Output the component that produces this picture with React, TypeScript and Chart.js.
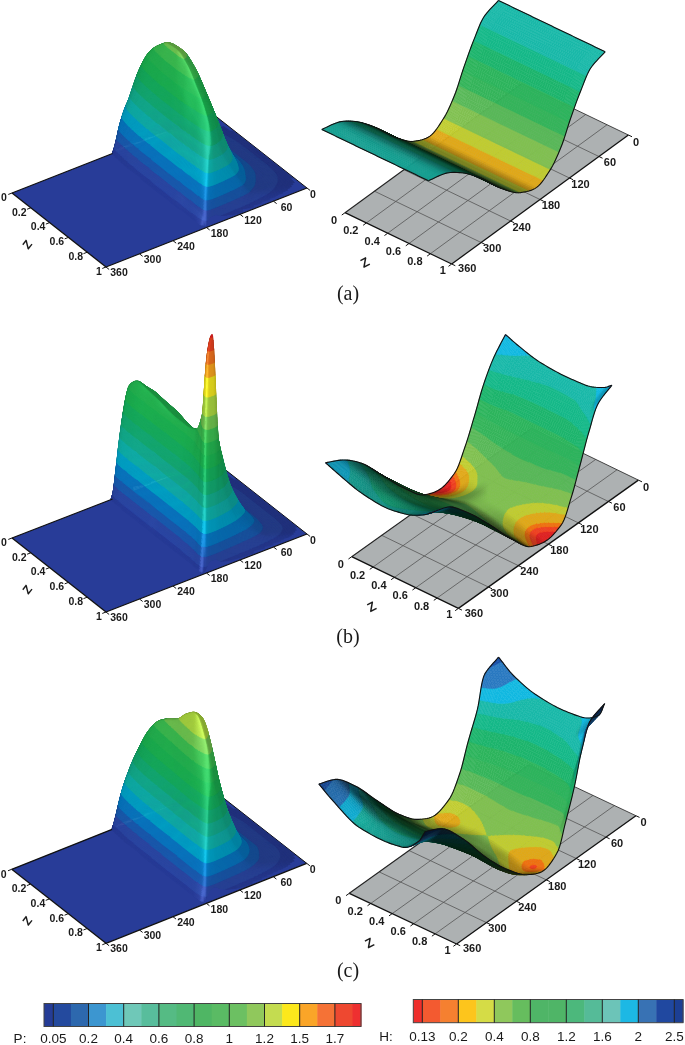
import { useEffect, useRef } from 'react';
import { Chart, ScatterController, registerables } from 'chart.js';

// pressure surfaces: rows follow thetaP, columns follow zP
const thetaP = [0, 60, 90, 120, 140, 155, 165, 172, 178, 183, 190, 360];
const zP = [0, 0.03, 0.1, 0.2, 0.3, 0.4, 0.5, 0.6, 0.7, 0.8, 0.9, 0.97, 1];

const pressureA = [
  [0, 0, 0, 0.01, 0.01, 0.01, 0.01, 0.01, 0.01, 0.01, 0.01, 0, 0],
  [0, 0.02, 0.05, 0.08, 0.11, 0.125, 0.13, 0.13, 0.13, 0.12, 0.085, 0.045, 0],
  [0, 0.05, 0.12, 0.18, 0.23, 0.26, 0.28, 0.28, 0.27, 0.24, 0.18, 0.1, 0],
  [0, 0.12, 0.27, 0.41, 0.5, 0.56, 0.59, 0.6, 0.58, 0.52, 0.42, 0.28, 0.01],
  [0, 0.2, 0.4, 0.62, 0.77, 0.86, 0.91, 0.92, 0.88, 0.79, 0.66, 0.44, 0.03],
  [0, 0.27, 0.47, 0.73, 0.92, 1.03, 1.1, 1.11, 1.06, 0.95, 0.81, 0.58, 0.05],
  [0, 0.28, 0.48, 0.75, 0.94, 1.05, 1.12, 1.13, 1.08, 0.97, 0.83, 0.63, 0.07],
  [0, 0.23, 0.39, 0.61, 0.76, 0.85, 0.91, 0.92, 0.88, 0.78, 0.68, 0.52, 0.07],
  [0, 0.12, 0.21, 0.33, 0.42, 0.47, 0.5, 0.5, 0.48, 0.43, 0.37, 0.29, 0.05],
  [0, 0.03, 0.05, 0.08, 0.1, 0.11, 0.12, 0.12, 0.115, 0.1, 0.09, 0.07, 0.01],
  [0, 0, 0.005, 0.01, 0.01, 0.01, 0.01, 0.01, 0.01, 0.01, 0.01, 0.005, 0],
  [0, 0, 0, 0, 0, 0, 0, 0, 0, 0, 0, 0, 0],
];

const pressureB = [
  [0, 0, 0, 0.01, 0.01, 0.01, 0.01, 0.01, 0.01, 0.01, 0.01, 0, 0],
  [0, 0.02, 0.05, 0.08, 0.1, 0.115, 0.12, 0.12, 0.12, 0.12, 0.11, 0.07, 0],
  [0, 0.06, 0.13, 0.2, 0.24, 0.26, 0.27, 0.27, 0.27, 0.27, 0.26, 0.16, 0.01],
  [0, 0.16, 0.33, 0.45, 0.52, 0.55, 0.56, 0.56, 0.56, 0.56, 0.52, 0.3, 0.02],
  [0, 0.34, 0.6, 0.76, 0.82, 0.84, 0.84, 0.83, 0.82, 0.84, 0.85, 0.55, 0.03],
  [0, 0.5, 0.84, 0.95, 0.97, 0.96, 0.95, 0.93, 0.92, 0.95, 1.15, 1.05, 0.05],
  [0, 0.58, 0.93, 1.0, 0.99, 0.98, 0.96, 0.95, 0.95, 0.98, 1.25, 1.82, 0.08],
  [0, 0.48, 0.78, 0.83, 0.81, 0.79, 0.78, 0.77, 0.76, 0.8, 1.08, 1.7, 0.08],
  [0, 0.27, 0.43, 0.47, 0.45, 0.44, 0.43, 0.42, 0.42, 0.45, 0.62, 1.1, 0.06],
  [0, 0.07, 0.12, 0.12, 0.12, 0.12, 0.11, 0.11, 0.11, 0.12, 0.17, 0.3, 0.02],
  [0, 0, 0.005, 0.01, 0.01, 0.01, 0.01, 0.01, 0.01, 0.01, 0.01, 0.01, 0],
  [0, 0, 0, 0, 0, 0, 0, 0, 0, 0, 0, 0, 0],
];

const pressureC = [
  [0, 0, 0, 0.01, 0.01, 0.01, 0.01, 0.01, 0.01, 0.01, 0.01, 0, 0],
  [0, 0.02, 0.05, 0.08, 0.1, 0.12, 0.13, 0.13, 0.13, 0.13, 0.1, 0.055, 0],
  [0, 0.05, 0.12, 0.19, 0.24, 0.26, 0.27, 0.28, 0.28, 0.27, 0.22, 0.12, 0.01],
  [0, 0.12, 0.28, 0.42, 0.51, 0.56, 0.58, 0.6, 0.6, 0.6, 0.5, 0.3, 0.02],
  [0, 0.2, 0.42, 0.63, 0.78, 0.87, 0.91, 0.94, 0.97, 0.98, 0.82, 0.52, 0.04],
  [0, 0.27, 0.5, 0.73, 0.92, 1.04, 1.11, 1.17, 1.25, 1.3, 1.12, 0.78, 0.07],
  [0, 0.27, 0.5, 0.73, 0.92, 1.05, 1.12, 1.18, 1.28, 1.34, 1.2, 0.9, 0.1],
  [0, 0.22, 0.42, 0.6, 0.75, 0.85, 0.91, 0.96, 1.04, 1.1, 1.0, 0.76, 0.09],
  [0, 0.12, 0.22, 0.33, 0.42, 0.47, 0.5, 0.52, 0.57, 0.6, 0.55, 0.42, 0.06],
  [0, 0.03, 0.05, 0.08, 0.1, 0.11, 0.12, 0.13, 0.13, 0.14, 0.13, 0.1, 0.02],
  [0, 0, 0.005, 0.01, 0.01, 0.01, 0.01, 0.01, 0.01, 0.01, 0.01, 0.005, 0],
  [0, 0, 0, 0, 0, 0, 0, 0, 0, 0, 0, 0, 0],
];

// film thickness surfaces: rows follow thetaH, columns follow zH
const thetaH = [0, 30, 60, 90, 120, 150, 180, 210, 240, 270, 300, 330, 360];
const zH = [0, 0.1, 0.3, 0.5, 0.7, 0.9, 1];

const filmA = [
  [1.79, 1.79, 1.79, 1.79, 1.79, 1.79, 1.79],
  [1.7, 1.7, 1.7, 1.7, 1.7, 1.7, 1.7],
  [1.41, 1.41, 1.41, 1.41, 1.41, 1.41, 1.41],
  [1.05, 1.05, 1.05, 1.05, 1.05, 1.05, 1.05],
  [0.66, 0.66, 0.66, 0.66, 0.66, 0.66, 0.66],
  [0.39, 0.39, 0.39, 0.39, 0.39, 0.39, 0.39],
  [0.26, 0.26, 0.26, 0.26, 0.26, 0.26, 0.26],
  [0.38, 0.38, 0.38, 0.38, 0.38, 0.38, 0.38],
  [0.7, 0.7, 0.7, 0.7, 0.7, 0.7, 0.7],
  [1.15, 1.15, 1.15, 1.15, 1.15, 1.15, 1.15],
  [1.5, 1.5, 1.5, 1.5, 1.5, 1.5, 1.5],
  [1.71, 1.71, 1.71, 1.71, 1.71, 1.71, 1.71],
  [1.79, 1.79, 1.79, 1.79, 1.79, 1.79, 1.79],
];

const filmB = [
  [2.02, 1.9, 1.74, 1.7, 1.72, 1.88, 2.04],
  [1.76, 1.7, 1.6, 1.56, 1.57, 1.72, 1.9],
  [1.4, 1.38, 1.3, 1.3, 1.3, 1.38, 1.5],
  [0.95, 0.97, 1.0, 1.0, 1.0, 0.98, 1.02],
  [0.52, 0.58, 0.7, 0.75, 0.72, 0.6, 0.55],
  [0.18, 0.25, 0.45, 0.58, 0.46, 0.26, 0.18],
  [0.08, 0.14, 0.36, 0.52, 0.38, 0.14, 0.09],
  [0.18, 0.24, 0.42, 0.55, 0.45, 0.25, 0.18],
  [0.55, 0.58, 0.68, 0.74, 0.7, 0.6, 0.58],
  [1.05, 1.04, 1.0, 0.98, 1.0, 1.05, 1.12],
  [1.55, 1.45, 1.3, 1.25, 1.3, 1.45, 1.6],
  [1.85, 1.75, 1.55, 1.5, 1.55, 1.75, 1.95],
  [2.02, 1.9, 1.7, 1.63, 1.7, 1.9, 2.06],
];

const filmC = [
  [2.32, 2.05, 1.82, 1.76, 1.8, 2.05, 2.41],
  [2.2, 2.0, 1.68, 1.62, 1.66, 1.95, 2.3],
  [1.65, 1.55, 1.4, 1.35, 1.38, 1.5, 1.87],
  [1.2, 1.15, 1.05, 1.02, 1.02, 1.1, 1.3],
  [0.72, 0.68, 0.68, 0.7, 0.66, 0.6, 0.8],
  [0.4, 0.36, 0.42, 0.48, 0.4, 0.28, 0.34],
  [0.3, 0.26, 0.34, 0.4, 0.3, 0.16, 0.2],
  [0.44, 0.38, 0.44, 0.5, 0.42, 0.26, 0.34],
  [0.78, 0.7, 0.7, 0.74, 0.68, 0.58, 0.68],
  [1.3, 1.15, 1.05, 1.04, 1.04, 1.1, 1.17],
  [1.85, 1.62, 1.4, 1.36, 1.4, 1.6, 1.8],
  [2.22, 2.0, 1.66, 1.6, 1.65, 2.0, 2.25],
  [2.35, 2.1, 1.75, 1.7, 1.76, 2.1, 2.42],
];

// contour levels and their colours, one colour more than levels
const pLevels = [0.05, 0.125, 0.2, 0.3, 0.4, 0.5, 0.6, 0.7, 0.8, 0.9, 1, 1.1, 1.2, 1.35, 1.5, 1.6, 1.7, 1.8];
const pColors = ['#253c96', '#244a9e', '#2d68ae', '#3c96d0', '#4cc0d4', '#6fc8b8', '#58bd9c', '#55bb84', '#50b874', '#4fb664', '#5abb64', '#6cc062', '#90c85c', '#c4dc50', '#fce81c', '#faa528', '#f57236', '#ee4830', '#ee3030'];
const pSurface = ['#283c98', '#2c48a4', '#1a5cb0', '#0878c2', '#00a4c8', '#10b0a8', '#14ac8c', '#14aa70', '#16ac5c', '#1cb050', '#24b250', '#3cba50', '#70c250', '#a8d240', '#ece020', '#f0a020', '#e87020', '#e04020', '#e02020'];
const hLevels = [0.13, 0.165, 0.2, 0.3, 0.4, 0.6, 0.8, 1, 1.2, 1.4, 1.6, 1.8, 2, 2.25, 2.5];
const hColors = ['#ee2e2c', '#f35a30', '#f58030', '#fdc51c', '#d5dc46', '#8fc85c', '#66bd5e', '#4fb567', '#4fb567', '#4cb87c', '#55bb98', '#6cc4b8', '#1cb8e4', '#3872b4', '#2048a0', '#1c3f94'];
const hSurface = ['#e02020', '#f04020', '#f07010', '#e0a818', '#c0cc30', '#80c050', '#58b858', '#34b45a', '#2cb45c', '#1cb46c', '#14b888', '#18b8a8', '#10b8e0', '#2878c0', '#1850a8', '#103c90'];

const pTicks = ['0.05', '0.2', '0.4', '0.6', '0.8', '1', '1.2', '1.5', '1.7'];
const hTicks = ['0.13', '0.2', '0.4', '0.8', '1.2', '1.6', '2', '2.5'];
const thetaTicks = [360, 300, 240, 180, 120, 60, 0];
const zTicks = [0, 0.2, 0.4, 0.6, 0.8, 1];

const leftPanels = [
  { origin: [12, 193], tVec: [201, -79], zVec: [94, 74], grid: pressureA },
  { origin: [12, 538], tVec: [201, -78], zVec: [94, 74], grid: pressureB },
  { origin: [11.7, 869.3], tVec: [200.7, -80], zVec: [94.3, 74], grid: pressureC },
];
const rightPanels = [
  { origin: [345, 212.7], tVec: [176.7, -129], zVec: [106.7, 51.3], grid: filmA },
  { origin: [351.7, 556.7], tVec: [180, -128.3], zVec: [106.7, 51.7], grid: filmB },
  { origin: [349.3, 893.3], tVec: [179.3, -128.3], zVec: [107.3, 50.7], grid: filmC },
];

const hexRgb = (h: string) => [1, 3, 5].map((i) => parseInt(h.slice(i, i + 2), 16));

function cubic(xs: number[], ys: number[], qs: number[]) {
  const n = xs.length;
  const d = xs.slice(1).map((x, i) => (ys[i + 1] - ys[i]) / (x - xs[i]));
  const m = xs.map((_, i) => {
    if (i === 0) return d[0];
    if (i === n - 1) return d[n - 2];
    if (d[i - 1] * d[i] <= 0) return 0;
    const h0 = xs[i] - xs[i - 1];
    const h1 = xs[i + 1] - xs[i];
    return (3 * (h0 + h1)) / ((2 * h1 + h0) / d[i - 1] + (h1 + 2 * h0) / d[i]);
  });
  return qs.map((q) => {
    let k = 0;
    while (k < n - 2 && q > xs[k + 1]) k++;
    const h = xs[k + 1] - xs[k];
    const t = (q - xs[k]) / h;
    const t2 = t * t;
    const t3 = t2 * t;
    return (2 * t3 - 3 * t2 + 1) * ys[k] + (t3 - 2 * t2 + t) * h * m[k] + (-2 * t3 + 3 * t2) * ys[k + 1] + (t3 - t2) * h * m[k + 1];
  });
}

function subdivide(xs: number[], n: number) {
  const out: number[] = [];
  xs.slice(1).forEach((x, i) => {
    for (let k = 0; k < n; k++) out.push(xs[i] + ((x - xs[i]) * k) / n);
  });
  out.push(xs[xs.length - 1]);
  return out;
}

// keep the part of a cell polygon above or below one contour level
function clipLevel(poly: number[][], level: number, above: boolean) {
  const out: number[][] = [];
  poly.forEach((p, i) => {
    const q = poly[(i + 1) % poly.length];
    const pIn = above ? p[2] >= level : p[2] <= level;
    const qIn = above ? q[2] >= level : q[2] <= level;
    if (pIn) out.push(p);
    if (pIn !== qIn) {
      const s = (level - p[2]) / (q[2] - p[2]);
      out.push([p[0] + s * (q[0] - p[0]), p[1] + s * (q[1] - p[1]), level]);
    }
  });
  return out;
}

const bandOf = (v: number, levels: number[]) => {
  let b = 0;
  while (b < levels.length && v >= levels[b]) b++;
  return b;
};

function shadeCss(base: number[], f: number, spec: number) {
  const c = base.map((v) => Math.min(255, Math.round(v * f + 255 * spec)));
  return `rgb(${c[0]},${c[1]},${c[2]})`;
}

function drawSurface(chart: any, panel: any, o: any) {
  const { ctx, scales } = chart;
  const px = (v: number) => scales.x.getPixelForValue(v);
  const py = (v: number) => scales.y.getPixelForValue(v);
  const tf = subdivide(o.thetas, o.subT);
  const zf = subdivide(o.zs, o.subZ);
  const cols = o.zs.map((_: number, j: number) => cubic(o.thetas, panel.grid.map((r: number[]) => r[j]), tf));
  const vals = tf.map((_, k) => cubic(o.zs, cols.map((c: number[]) => c[k]), zf));

  const X = (t: number, z: number, v: number) => panel.origin[0] + (1 - t / 360) * panel.tVec[0] + z * panel.zVec[0] + v * o.up[0];
  const Y = (t: number, z: number, v: number) => panel.origin[1] + (1 - t / 360) * panel.tVec[1] + z * panel.zVec[1] + v * o.up[1];
  const lt = Math.hypot(panel.tVec[0], panel.tVec[1]) / 360;
  const lz = Math.hypot(panel.zVec[0], panel.zVec[1]);
  const rise = Math.abs(o.up[1]);
  const rgb = o.colors.map(hexRgb);

  for (let i = 0; i < tf.length - 1; i++) {
    for (let j = 0; j < zf.length - 1; j++) {
      const a = vals[i][j], b = vals[i + 1][j], c = vals[i + 1][j + 1], d = vals[i][j + 1];
      const mean = (a + b + c + d) / 4;
      if (mean < o.skipBelow) continue;

      const nt = -(((b + c - a - d) / 2) * rise) / ((tf[i + 1] - tf[i]) * lt);
      const nz = -(((c + d - a - b) / 2) * rise) / ((zf[j + 1] - zf[j]) * lz);
      const len = Math.hypot(nt, nz, 1);
      let f = 1;
      let spec = 0;
      if (o.kind === 'pressure') {
        const dot = (nt * 0.8 + nz * 0.55 + 0.25) / len;
        f = dot > 0.81 ? 0.97 + (dot - 0.81) * 0.6 : Math.max(0.8, 0.97 - (0.81 - dot) * 0.3);
        spec = Math.max(0, Math.min(0.16, (dot - 0.84) * 0.7));
      } else {
        const dot = (nt * 0.66 + nz * 0.3 + 0.73) / len;
        f = Math.min(1, 0.2 + (0.8 * Math.max(0, dot)) / 0.73);
      }

      const poly = [[tf[i], zf[j], a], [tf[i + 1], zf[j], b], [tf[i + 1], zf[j + 1], c], [tf[i], zf[j + 1], d]];
      const lo = bandOf(Math.min(a, b, c, d), o.levels);
      const hi = bandOf(Math.max(a, b, c, d), o.levels);
      for (let band = lo; band <= hi; band++) {
        let part = poly;
        if (band > 0) part = clipLevel(part, o.levels[band - 1], true);
        if (band < o.levels.length && part.length) part = clipLevel(part, o.levels[band], false);
        if (part.length < 3) continue;
        const css = shadeCss(rgb[band], f, spec);
        ctx.fillStyle = css;
        ctx.strokeStyle = css;
        ctx.lineWidth = 0.5;
        ctx.beginPath();
        part.forEach((p: number[], k: number) => {
          const x = px(X(p[0], p[1], p[2]));
          const y = py(Y(p[0], p[1], p[2]));
          if (k) ctx.lineTo(x, y);
          else ctx.moveTo(x, y);
        });
        ctx.closePath();
        ctx.fill();
        ctx.stroke();
      }
    }
  }

  // outline of the sheet
  if (o.outline) {
    ctx.strokeStyle = '#111';
    ctx.lineWidth = 1.1;
    const last = zf.length - 1;
    const paths = [
      tf.map((t, i) => [X(t, 0, vals[i][0]), Y(t, 0, vals[i][0])]),
      tf.map((t, i) => [X(t, 1, vals[i][last]), Y(t, 1, vals[i][last])]),
      zf.map((z, j) => [X(0, z, vals[0][j]), Y(0, z, vals[0][j])]),
      zf.map((z, j) => [X(360, z, vals[tf.length - 1][j]), Y(360, z, vals[tf.length - 1][j])]),
    ];
    paths.forEach((p) => {
      ctx.beginPath();
      p.forEach((q: number[], k: number) => (k ? ctx.lineTo(px(q[0]), py(q[1])) : ctx.moveTo(px(q[0]), py(q[1]))));
      ctx.stroke();
    });
  }
}

function floorPoint(panel: any, t: number, z: number) {
  return [
    panel.origin[0] + (1 - t / 360) * panel.tVec[0] + z * panel.zVec[0],
    panel.origin[1] + (1 - t / 360) * panel.tVec[1] + z * panel.zVec[1],
  ];
}

function line(chart: any, a: number[], b: number[], color: string, width: number) {
  const { ctx, scales } = chart;
  ctx.strokeStyle = color;
  ctx.lineWidth = width;
  ctx.beginPath();
  ctx.moveTo(scales.x.getPixelForValue(a[0]), scales.y.getPixelForValue(a[1]));
  ctx.lineTo(scales.x.getPixelForValue(b[0]), scales.y.getPixelForValue(b[1]));
  ctx.stroke();
}

function label(chart: any, text: string, x: number, y: number, font: string, angle = 0) {
  const { ctx, scales } = chart;
  ctx.save();
  ctx.font = font;
  ctx.fillStyle = '#1a1a1a';
  ctx.textAlign = 'center';
  ctx.textBaseline = 'middle';
  ctx.translate(scales.x.getPixelForValue(x), scales.y.getPixelForValue(y));
  ctx.rotate((angle * Math.PI) / 180);
  ctx.fillText(text, 0, 0);
  ctx.restore();
}

function fillFloor(chart: any, panel: any, color: string) {
  const { ctx, scales } = chart;
  ctx.fillStyle = color;
  ctx.beginPath();
  [floorPoint(panel, 360, 0), floorPoint(panel, 360, 1), floorPoint(panel, 0, 1), floorPoint(panel, 0, 0)].forEach((p, i) => {
    const x = scales.x.getPixelForValue(p[0]);
    const y = scales.y.getPixelForValue(p[1]);
    if (i) ctx.lineTo(x, y);
    else ctx.moveTo(x, y);
  });
  ctx.closePath();
  ctx.fill();
}

function drawAxes(chart: any, panel: any, o: any) {
  const len = Math.hypot(panel.tVec[0], panel.tVec[1]);
  const zLen = Math.hypot(panel.zVec[0], panel.zVec[1]);
  thetaTicks.forEach((t, i) => {
    const p = floorPoint(panel, t, 1);
    line(chart, p, [p[0] + (panel.zVec[0] / zLen) * 4, p[1] + (panel.zVec[1] / zLen) * 4], '#111', 1);
    const off = i === 0 ? o.thetaFirst : i === thetaTicks.length - 1 ? o.thetaLast : o.thetaOff;
    label(chart, String(t), p[0] + off[0], p[1] + off[1], o.font);
  });
  zTicks.forEach((z, i) => {
    const p = floorPoint(panel, 360, z);
    line(chart, p, [p[0] - (panel.tVec[0] / len) * 4, p[1] - (panel.tVec[1] / len) * 4], '#111', 1);
    const off = i === 0 ? o.zFirst : i === zTicks.length - 1 ? o.zLast : o.zOff;
    label(chart, String(z), p[0] + off[0], p[1] + off[1], o.font);
  });
  const mid = floorPoint(panel, 360, 0.5);
  label(chart, 'Z', mid[0] + o.nameOff[0], mid[1] + o.nameOff[1], o.nameFont, o.nameAngle);
}

function drawLeft(chart: any, panel: any) {
  const corner = (t: number, z: number) => floorPoint(panel, t, z);
  fillFloor(chart, panel, pSurface[0]);
  line(chart, corner(0, 1), corner(0, 0), '#111', 1);
  drawSurface(chart, panel, {
    kind: 'pressure', thetas: thetaP, zs: zP, up: [0, -128], levels: pLevels, colors: pSurface,
    subT: 12, subZ: 10, skipBelow: 0.02, outline: false,
  });
  line(chart, corner(180, 0), corner(360, 0), '#111', 1.3);
  line(chart, corner(360, 0), corner(360, 1), '#111', 1.3);
  line(chart, corner(360, 1), corner(0, 1), '#111', 1.3);
  drawAxes(chart, panel, {
    font: 'bold 10.5px "Liberation Sans"',
    thetaFirst: [13, 6], thetaLast: [6, 7], thetaOff: [13, 6.5],
    zFirst: [-8, 5.5], zLast: [-7, 5], zOff: [-11.5, 5],
    nameOff: [-31, 15], nameFont: 'bold 12px "Liberation Sans"', nameAngle: -52,
  });
}

function drawRight(chart: any, panel: any) {
  const c = (t: number, z: number) => floorPoint(panel, t, z);
  fillFloor(chart, panel, '#adb1b2');
  thetaTicks.slice(1, -1).forEach((t) => line(chart, c(t, 0), c(t, 1), '#555', 0.8));
  zTicks.slice(1, -1).forEach((z) => line(chart, c(0, z), c(360, z), '#555', 0.8));
  line(chart, c(360, 0), c(0, 0), '#222', 1.1);
  line(chart, c(0, 0), c(0, 1), '#333', 0.9);
  line(chart, c(360, 0), c(360, 1), '#111', 1.3);
  line(chart, c(360, 1), c(0, 1), '#111', 1.3);
  drawSurface(chart, panel, {
    kind: 'film', thetas: thetaH, zs: zH, up: [-12.97, -46.5], levels: hLevels, colors: hSurface,
    subT: 8, subZ: 10, skipBelow: -1, outline: true,
  });
  drawAxes(chart, panel, {
    font: 'bold 11px "Liberation Sans"',
    thetaFirst: [15.5, 5.3], thetaLast: [7.7, 7.7], thetaOff: [11, 6.8],
    zFirst: [-11, 8], zLast: [-9, 6.7], zOff: [-15.5, 8.5],
    nameOff: [-33, 25], nameFont: 'bold 13px "Liberation Sans"', nameAngle: -28,
  });
}

// one surface panel, drawn through the chart's own x and y scales
class SurfaceController extends ScatterController {
  static id = 'surface';
  static defaults = ScatterController.defaults;
  static overrides = ScatterController.overrides;
  draw() {
    const ds: any = this.getDataset();
    if (ds.side === 'left') drawLeft(this.chart, ds.panel);
    else drawRight(this.chart, ds.panel);
  }
}

Chart.register(...registerables, SurfaceController);

function drawBar(chart: any, o: any) {
  const { ctx, scales } = chart;
  const px = (v: number) => scales.x.getPixelForValue(v);
  const py = (v: number) => scales.y.getPixelForValue(v);
  const half = o.step / 2;
  o.colors.forEach((col: string, i: number) => {
    const x0 = i === 0 ? o.x0 : o.first + (i - 1) * half;
    const x1 = Math.min(o.x1, o.first + i * half);
    ctx.fillStyle = col;
    ctx.fillRect(px(x0), py(o.y0), px(x1) - px(x0) + 0.5, py(o.y1) - py(o.y0));
  });
  ctx.strokeStyle = '#444';
  ctx.lineWidth = 1;
  ctx.strokeRect(px(o.x0), py(o.y0), px(o.x1) - px(o.x0), py(o.y1) - py(o.y0));
  o.ticks.forEach((t: string, i: number) => {
    const x = o.first + i * o.step;
    line(chart, [x, o.y0], [x, o.y1], '#222', 1);
    label(chart, t, x, o.labelY, '13.5px "Liberation Sans"');
  });
  label(chart, o.name, o.nameX, o.labelY, '13.5px "Liberation Sans"');
}

const captions = [
  { text: '(a)', y: 295 },
  { text: '(b)', y: 638 },
  { text: '(c)', y: 972 },
];

const extrasPlugin = {
  id: 'extras',
  afterDatasetsDraw(chart: any) {
    captions.forEach((c) => label(chart, c.text, 348, c.y, '20px "Liberation Serif"'));
    drawBar(chart, { x0: 44, x1: 361, y0: 1003.5, y1: 1026.5, first: 53.3, step: 35.2, colors: pColors, ticks: pTicks, name: 'P:', nameX: 20, labelY: 1039 });
    drawBar(chart, { x0: 413.3, x1: 683, y0: 999.5, y1: 1022.7, first: 422.3, step: 36, colors: hColors, ticks: hTicks, name: 'H:', nameX: 386, labelY: 1037 });
  },
};

export default function App() {
  const ref = useRef<HTMLCanvasElement | null>(null);

  useEffect(() => {
    if (!ref.current) return;
    document.body.style.margin = '0';
    const corners = (p: any) => [floorPoint(p, 360, 0), floorPoint(p, 360, 1), floorPoint(p, 0, 1), floorPoint(p, 0, 0)].map((q) => ({ x: q[0], y: q[1] }));
    const chart = new Chart(ref.current, {
      type: 'scatter',
      data: {
        datasets: [
          ...leftPanels.map((panel) => ({ type: 'surface', side: 'left', panel, data: corners(panel) })),
          ...rightPanels.map((panel) => ({ type: 'surface', side: 'right', panel, data: corners(panel) })),
        ] as any,
      },
      options: {
        animation: false,
        responsive: false,
        events: [],
        layout: { padding: 0, autoPadding: false },
        plugins: { legend: { display: false }, tooltip: { enabled: false } },
        scales: {
          x: { type: 'linear', min: 0, max: 685, display: false },
          y: { type: 'linear', min: 0, max: 1045, reverse: true, display: false },
        },
      },
      plugins: [extrasPlugin],
    });
    return () => chart.destroy();
  }, []);

  return <canvas ref={ref} width={685} height={1045} style={{ display: 'block', background: '#fff', filter: 'blur(0.4px)' }} />;
}
